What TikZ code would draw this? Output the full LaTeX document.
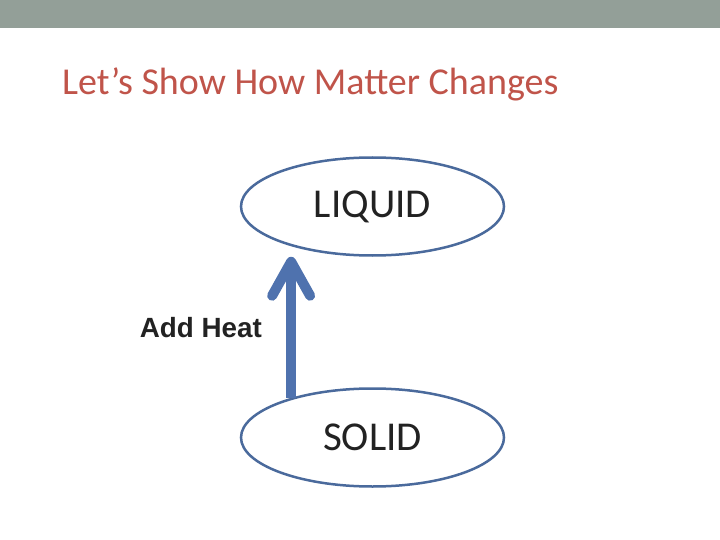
\documentclass[tikz,border=0pt]{standalone}
\usepackage{fontspec}
\setmainfont{Carlito}
\newfontfamily\arialfont{Liberation Sans}
\usetikzlibrary{arrows.meta,shapes.geometric}
\definecolor{barGray}{HTML}{939F98}
\definecolor{titleRed}{HTML}{C0544A}
\definecolor{ringBlue}{HTML}{4A6A9C}
\definecolor{arrowBlue}{HTML}{4F72AE}
\definecolor{inkDark}{HTML}{222222}
\begin{document}
\begin{tikzpicture}[x=1pt,y=-1pt,
    state/.style={draw=ringBlue,line width=2.5pt,ellipse,minimum width=263pt,minimum height=98pt,
      inner sep=0pt,text=inkDark,font=\fontsize{41}{46}\selectfont},
    heat/.style={draw=arrowBlue,line width=10pt,-{Straight Barb[round,length=34pt,width=38pt]}},
    every node/.style={inner sep=0pt}]
  \useasboundingbox[fill=white] (0,0) rectangle (720,540);
  \fill[barGray] (0,0) rectangle (720,28);
  \node[anchor=base west,text=titleRed,font=\fontsize{38}{44}\selectfont] (title) at (62,95)
    {Let’s Show How Matter Changes};
  \node[state] (liquid) at (372.5,206.5) {LIQUID};
  \node[state] (solid) at (372.5,437.5) {SOLID};
  \coordinate (foot) at (solid.154.5);
  \draw[heat] (foot) -- (foot |- liquid.south);
  \node[anchor=base east,text=inkDark,font=\arialfont\bfseries\fontsize{27.8}{32}\selectfont] (addheat)
    at (262,337) {Add Heat};
\end{tikzpicture}
\end{document}
